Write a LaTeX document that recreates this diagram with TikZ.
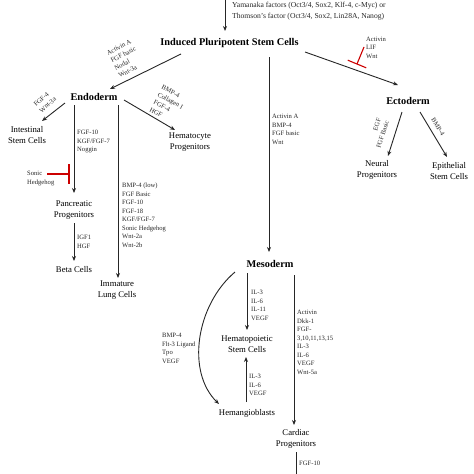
\documentclass[tikz,border=0pt]{standalone}
\usepackage{fontspec}
\setmainfont{Liberation Serif}
\usetikzlibrary{arrows.meta}
\begin{document}
\begin{tikzpicture}[x=1pt,y=-1pt,
  arr/.style={draw=black!85, line width=0.9pt, -{Stealth[length=5pt,width=4pt]}},
  ln/.style={draw=black!85, line width=0.9pt},
  inh/.style={draw=red!80!black, line width=1.1pt},
  stage/.style={font=\fontsize{10.3}{12}\selectfont\bfseries, inner sep=0pt},
  cell/.style={font=\fontsize{8.7}{10.5}\selectfont, align=center, inner sep=0pt},
  fac/.style={font=\fontsize{6.6}{8.5}\selectfont, align=left, inner sep=0pt, text=black!85},
  facr/.style={fac, align=right},
]
\useasboundingbox (0,0) rectangle (474,474);

% reprogramming factors (label blocks are anchored at the baseline of their last line)
\node[fac, font=\fontsize{7.6}{11}\selectfont, anchor=base west] (yam) at (232,18.5)
  {Yamanaka factors (Oct3/4, Sox2, Klf-4, c-Myc) or\\Thomson's factor (Oct3/4, Sox2, Lin28A, Nanog)};
\coordinate (src) at (225,0);

% germ layers
\node[stage] (ipsc) at (229.5,43) {Induced Pluripotent Stem Cells};
\node[stage] (endo) at (94,97) {Endoderm};
\node[stage] (ecto) at (408,101) {Ectoderm};
\node[stage] (meso) at (270,264) {Mesoderm};

% derived cell types
\node[cell] (isc) at (27,135) {Intestinal\\Stem Cells};
\node[cell] (hema) at (190,142) {Hematocyte\\Progenitors};
\node[cell] (panc) at (74,210) {Pancreatic\\Progenitors};
\node[cell] (beta) at (74,270) {Beta Cells};
\node[cell] (lung) at (117,290) {Immature\\Lung Cells};
\node[cell] (neur) at (377,170) {Neural\\Progenitors};
\node[cell] (epi) at (449,171) {Epithelial\\Stem Cells};
\node[cell] (hsc) at (247,344) {Hematopoietic\\Stem Cells};
\node[cell] (hemang) at (247,413) {Hemangioblasts};
\node[cell] (card) at (296,439) {Cardiac\\Progenitors};
\coordinate (cardout) at (296,476);

% arrows
\draw[arr] (src) -- ([shift={(-4.5,-12)}]ipsc.center);
\draw[arr] ([shift={(-48.5,11)}]ipsc.center) -- ([shift={(16,-8)}]endo.center);
\draw[arr] ([shift={(75.5,9)}]ipsc.center) -- ([shift={(-10,-16)}]ecto.center);
\draw[arr] ([shift={(39.5,14)}]ipsc.center) -- ([shift={(-1,-12)}]meso.center);

\draw[arr] ([shift={(-29,6)}]endo.center) -- ([shift={(15,-14)}]isc.center);
\draw[arr] ([shift={(30,3)}]endo.center) -- ([shift={(-15,-12)}]hema.center);
\draw[arr] ([shift={(-20,8)}]endo.center) -- ([shift={(0,-17)}]panc.center);
\draw[arr] ([shift={(24,8)}]endo.center) -- ([shift={(1,-12)}]lung.center);
\draw[arr] ([shift={(0,13)}]panc.center) -- ([shift={(0,-9)}]beta.center);

\draw[arr] ([shift={(-6,11)}]ecto.center) -- ([shift={(11,-14)}]neur.center);
\draw[arr] ([shift={(12,11)}]ecto.center) -- ([shift={(-2,-14)}]epi.center);

\draw[arr] ([shift={(-23,9)}]meso.center) -- ([shift={(0,-14)}]hsc.center);
\draw[arr] ([shift={(24,11)}]meso.center) -- ([shift={(-2,-14)}]card.center);
\draw[arr] ([shift={(-1,-11)}]hemang.center) -- ([shift={(-1,13)}]hsc.center);
\draw[arr] ([shift={(-35,8)}]meso.center) .. controls (196,305) and (186,372) .. ([shift={(-28,-9)}]hemang.center);
\draw[ln] ([shift={(0,13)}]card.center) -- (cardout);

% inhibitors
\node[fac, anchor=base west] (inhA) at (366,58.3) {Activin\\LIF\\Wnt};
\draw[inh] (364,47) -- (357,64);
\draw[inh] (347.8,60.2) -- (366.2,67.8);

\node[fac, anchor=base west] (shh) at (27,184) {Sonic\\Hedgehog};
\draw[inh] (47,174) -- (69,174);
\draw[inh] (69,164) -- (69,184);

% factor labels
\node[fac, rotate=27, anchor=base west] (f1) at (119.6,78) {Activin A\\FGF basic\\Nodal\\Wnt-3a};
\node[fac, rotate=42, anchor=base west] (f2) at (41.7,113.3) {FGF-4\\Wnt-3a};
\node[fac, rotate=-28, anchor=base west] (f3) at (149,111) {BMP-4\\Collagen I\\FGF-4\\HGF};
\node[fac, anchor=base west] (f4) at (77,151.5) {FGF-10\\KGF/FGF-7\\Noggin};
\node[fac, anchor=base west] (f5) at (122,247) {BMP-4 (low)\\FGF Basic\\FGF-10\\FGF-18\\KGF/FGF-7\\Sonic Hedgehog\\Wnt-2a\\Wnt-2b};
\node[fac, anchor=base west] (f6) at (77,248) {IGF1\\HGF};
\node[facr, rotate=72, anchor=base east] (f7) at (389.1,121.6) {EGF\\FGF Basic};
\node[fac, rotate=-58] (f8) at (438,127) {BMP-4};
\node[fac, anchor=base west] (f9) at (272,144) {Activin A\\BMP-4\\FGF basic\\Wnt};
\node[fac, anchor=base west] (f10) at (251,320) {IL-3\\IL-6\\IL-11\\VEGF};
\node[fac, anchor=base west] (f11) at (297,374) {Activin\\Dkk-1\\FGF-\\3,10,11,13,15\\IL-3\\IL-6\\VEGF\\Wnt-5a};
\node[fac, anchor=base west] (f12) at (249,395.5) {IL-3\\IL-6\\VEGF};
\node[fac, anchor=base west] (f13) at (162,363) {BMP-4\\Flt-3 Ligand\\Tpo\\VEGF};
\node[fac, anchor=base west] (f14) at (299,465.5) {FGF-10};
\end{tikzpicture}
\end{document}
